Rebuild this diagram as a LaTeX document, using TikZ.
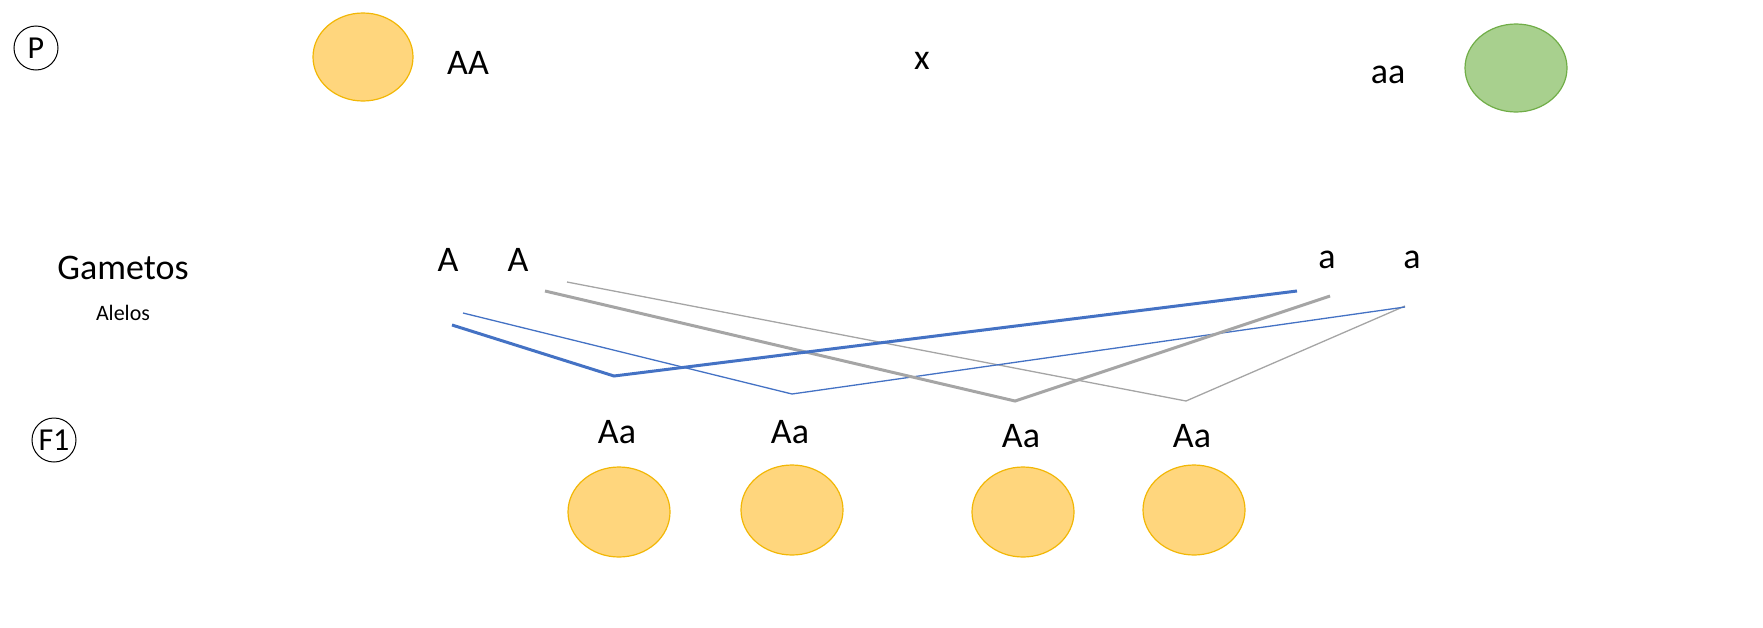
\documentclass[tikz,border=0pt]{standalone}
\usepackage{fontspec}
\setmainfont{Carlito}
\usetikzlibrary{shapes.geometric}
\definecolor{orb}{RGB}{242,183,5}
\definecolor{orl}{RGB}{255,214,125}
\definecolor{grb}{RGB}{112,173,71}
\definecolor{grl}{RGB}{168,208,142}
\begin{document}
\begin{tikzpicture}[x=1pt,y=-1pt,
  org/.style={ellipse,minimum width=100pt,minimum height=88pt,draw=orb,line width=1.2pt,fill=orl},
  grn/.style={ellipse,minimum width=100pt,minimum height=88pt,draw=grb,line width=1.2pt,fill=grl},
  lbl/.style={font=\fontsize{36}{40}\selectfont,inner sep=0pt},
  circ/.style={circle,draw,line width=1pt,minimum size=44pt,inner sep=0pt,font=\fontsize{32}{36}\selectfont},
  bthick/.style={draw={rgb,255:red,68;green,114;blue,196},line width=3pt},
  bthin/.style={draw={rgb,255:red,68;green,114;blue,196},line width=1.3pt},
  gthick/.style={draw={rgb,255:red,165;green,165;blue,165},line width=3pt},
  gthin/.style={draw={rgb,255:red,165;green,165;blue,165},line width=1.3pt}]
\node[circ] (p) at (36,48) {P};
\node[circ] (f1) at (54,440) {F1};
\node[org] (pa) at (363,57) {};
\node[lbl] (tAA) at (468,63) {AA};
\node[lbl] (tx) at (922,61) {x};
\node[lbl] (taa) at (1388,75) {aa};
\node[grn,minimum width=102pt] (pb) at (1516,68) {};
\node[lbl] (gam) at (123,268) {Gametos};
\node[font=\fontsize{22}{24}\selectfont] (al) at (123,313) {Alelos};
\node[lbl] (A1) at (448,260) {A};
\node[lbl] (A2) at (518,260) {A};
\node[lbl] (a1) at (1327,260) {a};
\node[lbl] (a2) at (1412,260) {a};
\coordinate (b1s) at (452,325); \coordinate (b1m) at (614,376); \coordinate (b1e) at (1297,291);
\coordinate (b2s) at (463,313); \coordinate (b2m) at (792,394); \coordinate (b2e) at (1405,307);
\coordinate (g1s) at (545,291); \coordinate (g1m) at (1015,401); \coordinate (g1e) at (1330,296);
\coordinate (g2s) at (567,282); \coordinate (g2m) at (1186,401); \coordinate (g2e) at (1405,306);
\draw[gthin] (g2s) -- (g2m) -- (g2e);
\draw[bthin] (b2s) -- (b2m) -- (b2e);
\draw[gthick] (g1s) -- (g1m) -- (g1e);
\draw[bthick] (b1s) -- (b1m) -- (b1e);
\foreach \n/\x/\ty/\ey in {1/617/432/512,2/790/432/510,3/1021/436/512,4/1192/436/510}{
  \node[lbl] (t\n) at (\x,\ty) {Aa};
  \node[org,minimum width=102pt,minimum height=90pt] (e\n) at (\x+2,\ey) {};
}
\pgfresetboundingbox
\useasboundingbox (0,0) rectangle (1763,627);
\end{tikzpicture}
\end{document}
